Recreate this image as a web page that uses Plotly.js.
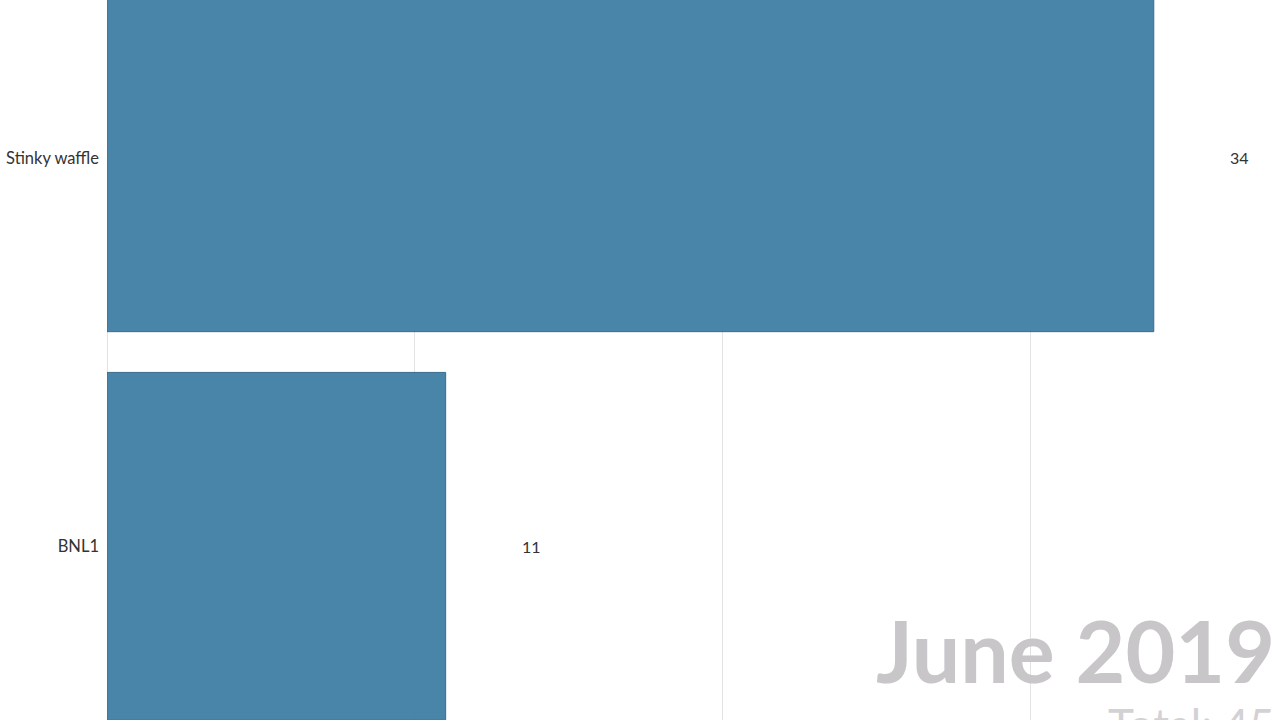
<!DOCTYPE html>
<html>
<head>
<meta charset="utf-8">
<script src="https://cdn.plot.ly/plotly-3.0.1.min.js"></script>
<style>
  html, body { margin: 0; padding: 0; background: #fff; overflow: hidden; }
  #grafico { width: 1280px; height: 720px; }
</style>
</head>
<body>
<div id="grafico"></div>
<script>
// datos del grafico
const categorias = ["BNL1", "Stinky waffle"];
const valores = [11, 34];
const mes = "June 2019";

const total = valores.reduce((a, b) => a + b, 0);

const barras = {
    type: 'bar',
    orientation: 'h',
    y: categorias,
    x: valores,
    marker: {
        color: 'rgba(66,128,164,0.96)',
        line: { color: '#3a6b8a', width: 1 }
    },
    hoverinfo: 'none'
};

// etiquetas con el valor a la derecha de cada barra
const etiquetas = valores.map((v, i) => ({
    x: v,
    y: categorias[i],
    xref: 'x',
    yref: 'y',
    text: String(v),
    showarrow: false,
    xanchor: 'center',
    xshift: 86,
    font: { family: 'Lato, sans-serif', size: 16, color: '#333' }
}));

const layout = {
    width: 1280,
    height: 720,
    margin: { l: 107, r: 0, t: 0, b: 0 },
    paper_bgcolor: '#fff',
    plot_bgcolor: '#fff',
    bargap: 0.105,
    showlegend: false,
    font: { family: 'Lato, sans-serif', color: '#333' },
    xaxis: {
        range: [0, 38.1],
        dtick: 10,
        showgrid: true,
        gridcolor: '#e2e2e2',
        zeroline: true,
        zerolinecolor: '#e2e2e2',
        showticklabels: false,
        fixedrange: true
    },
    yaxis: {
        type: 'category',
        categoryorder: 'array',
        categoryarray: categorias,
        range: [-0.448, 1.407],
        showgrid: false,
        zeroline: false,
        ticks: '',
        ticklabelstandoff: 7,
        tickfont: { family: 'Lato, sans-serif', size: 16.5, color: '#333' }
    },
    annotations: etiquetas.concat([
        {
            xref: 'paper', yref: 'paper',
            x: 1.0, y: 0.098,
            xanchor: 'right', yanchor: 'middle',
            xshift: -3,
            text: '<b>' + mes + '</b>',
            showarrow: false,
            font: { family: 'Lato, sans-serif', size: 86, color: '#c8c6c9' }
        },
        {
            xref: 'paper', yref: 'paper',
            x: 1.0, y: -0.006,
            xanchor: 'right', yanchor: 'middle',
            xshift: -3,
            text: 'Total: ' + total,
            showarrow: false,
            font: { family: 'Lato, sans-serif', size: 44, color: '#d3d1d4' }
        }
    ])
};

Plotly.newPlot('grafico', [barras], layout, { displayModeBar: false, staticPlot: true });
</script>
</body>
</html>
